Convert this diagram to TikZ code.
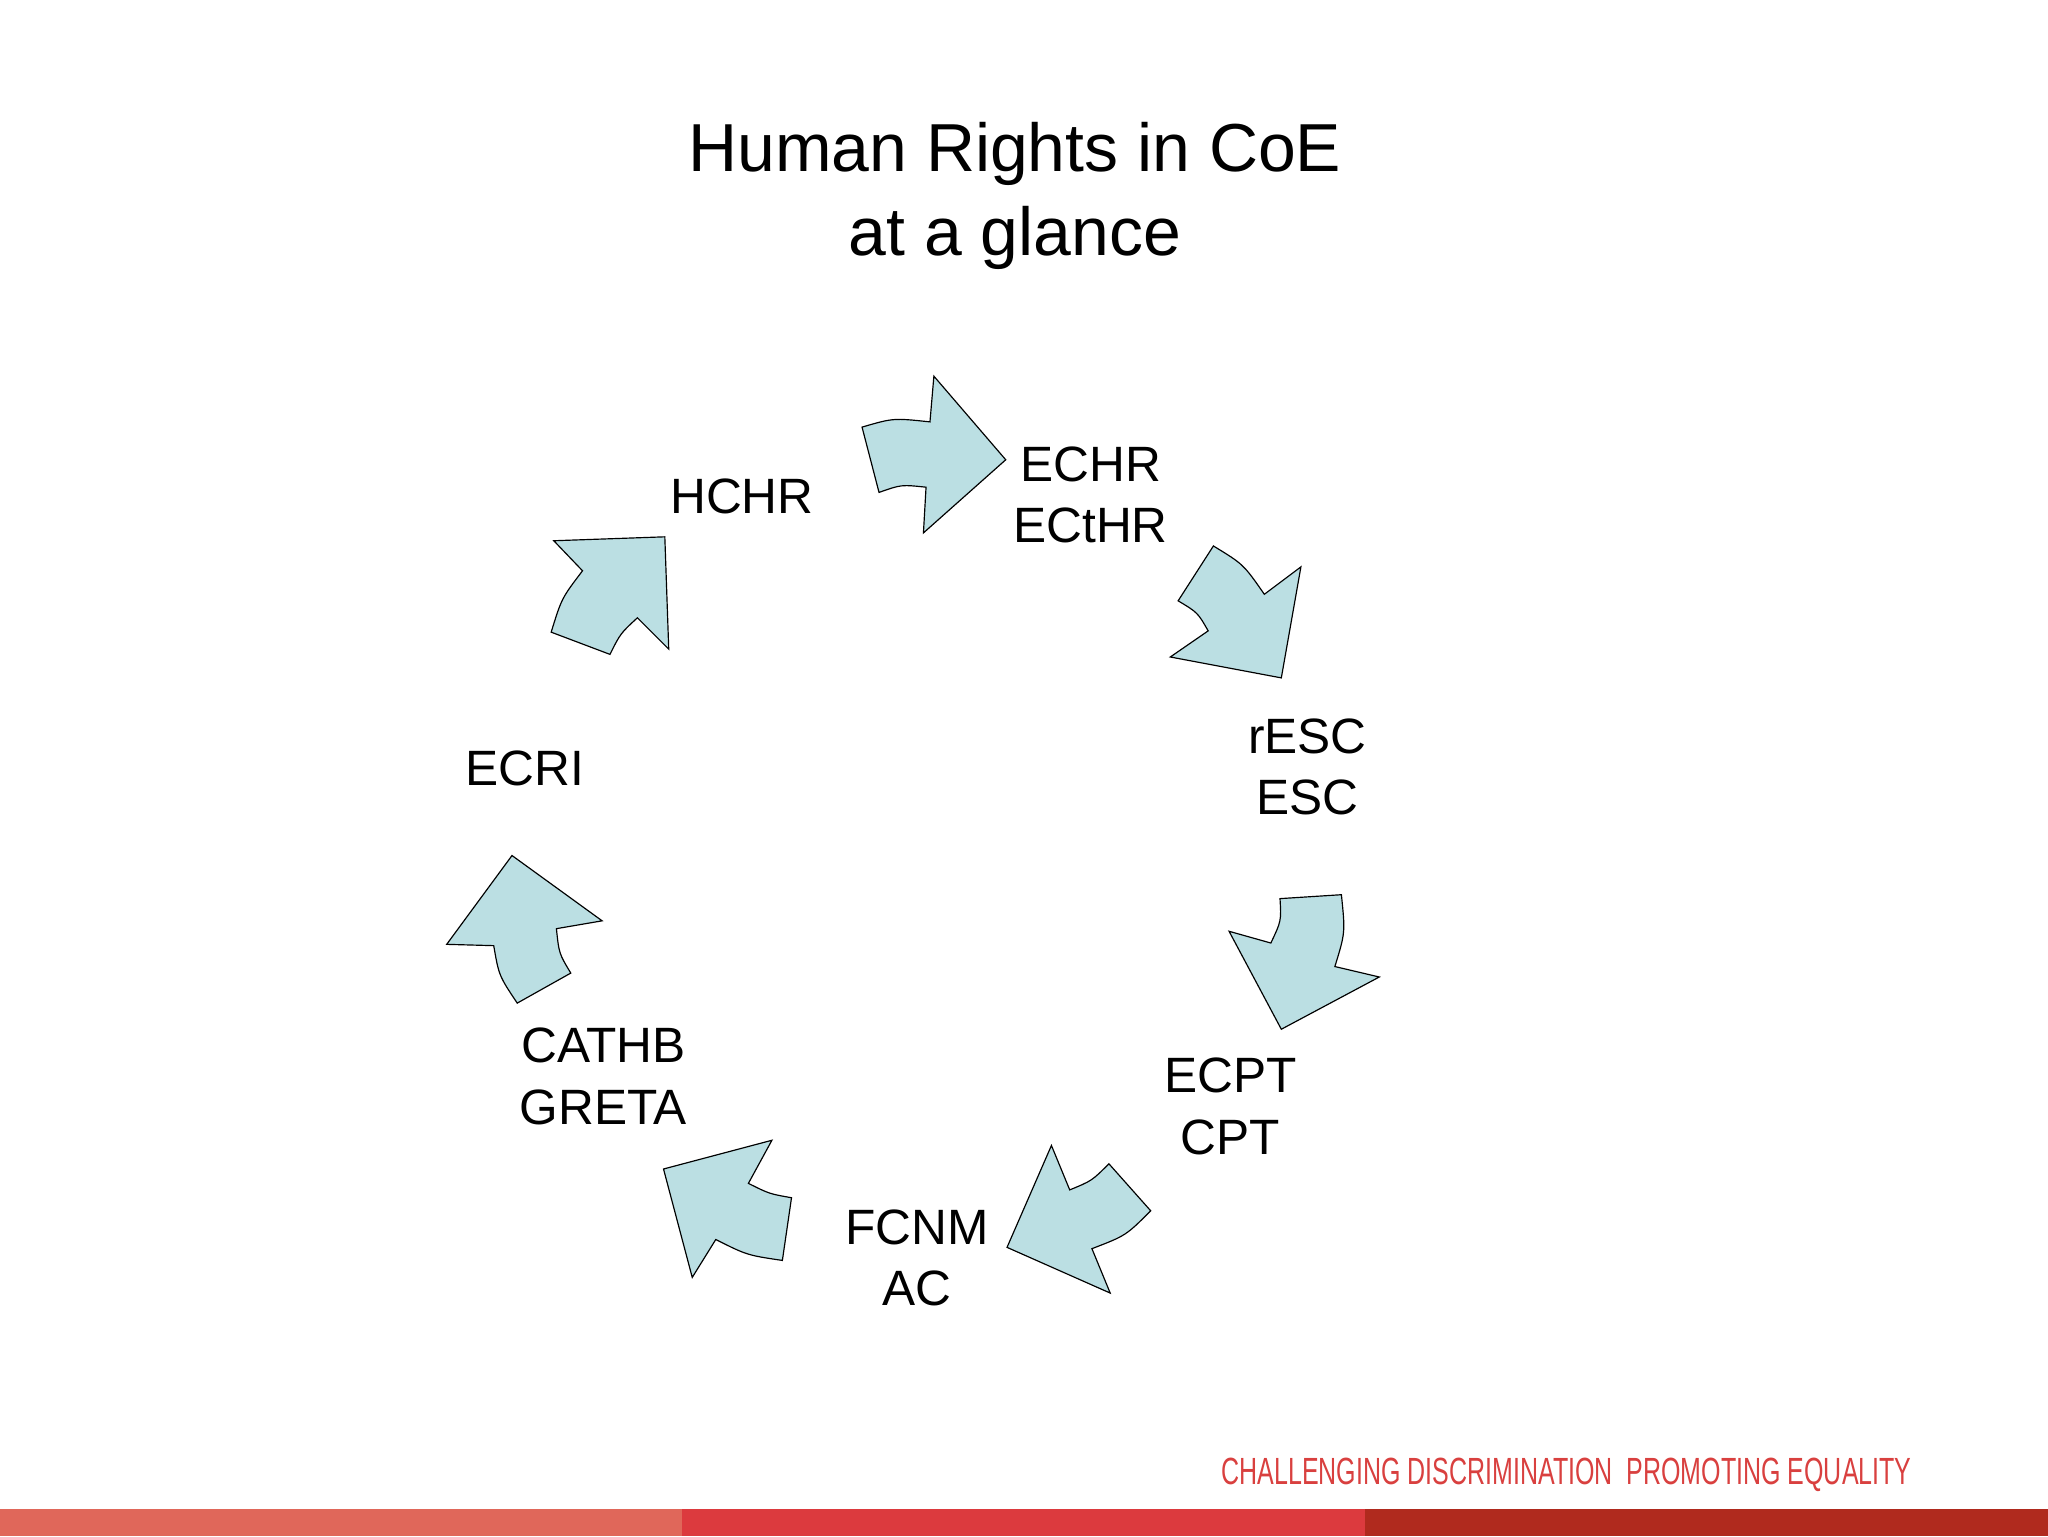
\documentclass[tikz,border=0pt]{standalone}
\usepackage{fontspec}
\setmainfont{Liberation Sans}
\begin{document}
\begin{tikzpicture}[x=1pt,y=-1pt,
  arr/.style={draw=black,line width=0.9pt,fill=arrowfill,line join=miter},
  lbl/.style={font=\fontsize{38}{47}\selectfont,align=center}]
\definecolor{arrowfill}{HTML}{BBDFE3}
\definecolor{band1}{HTML}{E0675A}
\definecolor{band2}{HTML}{DC3A3E}
\definecolor{band3}{HTML}{B02A1E}
\definecolor{foot}{HTML}{D9403F}
\useasboundingbox (0,0) rectangle (1568,1176);
\fill[white] (0,0) rectangle (1568,1176);
\fill[band1] (0,1155) rectangle (522,1176);
\fill[band2] (522,1155) rectangle (1045,1176);
\fill[band3] (1045,1155) rectangle (1568,1176);
\node[font=\fontsize{52}{64}\selectfont,align=center] (title) at (777,150) {Human Rights in CoE\\at a glance};
\node[anchor=east,text=foot,font=\fontsize{29}{30}\selectfont] (footer) at (1467,1129) {\scalebox{0.66}[1]{CHALLENGING DISCRIMINATION\ \ PROMOTING EQUALITY}};
% arrows
\draw[arr] (660,327) .. controls (684,320) .. (712,323) -- (715,288) -- (770,352) -- (707,408) -- (709,373) .. controls (690,371) .. (673,377) -- cycle;
\draw[arr] (929,418) .. controls (952,432) .. (968,455) -- (996,434) -- (981,519) -- (896,503) -- (925,483) .. controls (917,469) .. (902,460) -- cycle;
\draw[arr] (980,688) -- (1027,685) .. controls (1030,714) .. (1022,740) -- (1056,748) -- (981,788) -- (941,713) -- (973,722) .. controls (981,705) .. (980,688) -- cycle;
\draw[arr] (881,927) .. controls (862,946) .. (836,956) -- (850,990) -- (771,955) -- (805,877) -- (819,911) .. controls (836,904) .. (849,891) -- cycle;
\draw[arr] (599,965) .. controls (572,961) .. (548,949) -- (530,978) -- (508,895) -- (591,873) -- (573,906) .. controls (589,914) .. (606,917) -- cycle;
\draw[arr] (396,768) .. controls (382,747) .. (378,724) -- (342,723) -- (392,655) -- (461,705) -- (426,711) .. controls (428,730) .. (437,745) -- cycle;
\draw[arr] (422,484) .. controls (430,458) .. (446,437) -- (424,414) -- (509,411) -- (512,497) -- (488,473) .. controls (475,485) .. (467,501) -- cycle;
% labels
\node[lbl] (hchr) at (568,380) {HCHR};
\node[lbl] (echr) at (835,379) {ECHR\\ECtHR};
\node[lbl] (resc) at (1001,587) {rESC\\ESC};
\node[lbl] (ecpt) at (942,847) {ECPT\\CPT};
\node[lbl] (fcnm) at (702,963) {FCNM\\AC};
\node[lbl] (cathb) at (462,824) {CATHB\\GRETA};
\node[lbl] (ecri) at (402,588) {ECRI};
\end{tikzpicture}
\end{document}
